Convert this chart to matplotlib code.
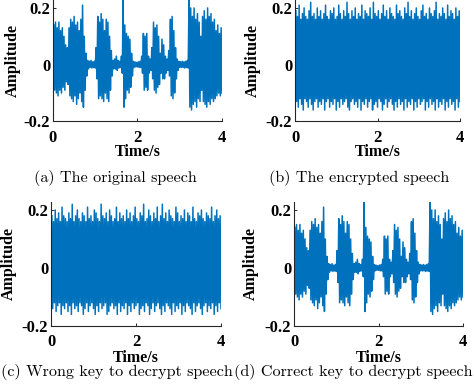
import numpy as np
import matplotlib
matplotlib.use('Agg')
import matplotlib.pyplot as plt

# envelope of the speech signals, one value every 0.04 s
speech_hi = [0.14, 0.15, 0.13, 0.15, 0.12, 0.13, 0.10, 0.07, 0.06, 0.13,
             0.16, 0.15, 0.17, 0.14, 0.15, 0.12, 0.16, 0.21, 0.10, 0.04,
             0.015, 0.012, 0.015, 0.01, 0.012, 0.06, 0.17, 0.15, 0.18, 0.16,
             0.12, 0.16, 0.15, 0.10, 0.05, 0.015, 0.02, 0.03, 0.015, 0.012,
             0.03, 0.23, 0.14, 0.11, 0.10, 0.09, 0.04, 0.012, 0.01, 0.008,
             0.01, 0.012, 0.03, 0.11, 0.10, 0.11, 0.03, 0.02, 0.06, 0.15,
             0.13, 0.14, 0.10, 0.04, 0.09, 0.07, 0.03, 0.02, 0.05, 0.16,
             0.17, 0.12, 0.06, 0.02, 0.012, 0.01, 0.012, 0.01, 0.012, 0.015,
             0.23, 0.20, 0.17, 0.20, 0.16, 0.18, 0.15, 0.10, 0.17, 0.19,
             0.16, 0.20, 0.17, 0.18, 0.15, 0.16, 0.12, 0.14, 0.11, 0.13]
speech_lo = [-0.09, -0.10, -0.11, -0.09, -0.10, -0.08, -0.09, -0.06, -0.07, -0.11,
             -0.12, -0.13, -0.11, -0.14, -0.12, -0.10, -0.13, -0.15, -0.09, -0.04,
             -0.015, -0.01, -0.012, -0.01, -0.012, -0.05, -0.12, -0.11, -0.12, -0.13,
             -0.10, -0.12, -0.13, -0.09, -0.04, -0.015, -0.015, -0.02, -0.012, -0.01,
             -0.03, -0.15, -0.12, -0.09, -0.10, -0.08, -0.04, -0.01, -0.008, -0.008,
             -0.01, -0.01, -0.03, -0.09, -0.08, -0.09, -0.03, -0.02, -0.05, -0.09,
             -0.10, -0.08, -0.07, -0.03, -0.05, -0.05, -0.03, -0.02, -0.04, -0.11,
             -0.12, -0.10, -0.05, -0.02, -0.01, -0.01, -0.01, -0.012, -0.01, -0.012,
             -0.15, -0.16, -0.14, -0.13, -0.15, -0.12, -0.13, -0.09, -0.13, -0.14,
             -0.15, -0.13, -0.14, -0.12, -0.13, -0.12, -0.11, -0.10, -0.11, -0.10]

# encrypted speech
enc_hi = [0.19, 0.17, 0.21, 0.16, 0.18, 0.20, 0.17, 0.16, 0.19, 0.22,
          0.17, 0.18, 0.16, 0.20, 0.17, 0.19, 0.16, 0.18, 0.21, 0.17,
          0.16, 0.19, 0.18, 0.20, 0.16, 0.17, 0.21, 0.18, 0.16, 0.19,
          0.17, 0.22, 0.18, 0.16, 0.19, 0.17, 0.20, 0.16, 0.18, 0.17,
          0.21, 0.16, 0.19, 0.18, 0.17, 0.20, 0.16, 0.22, 0.18, 0.17,
          0.19, 0.16, 0.18, 0.21, 0.17, 0.19, 0.16, 0.20, 0.18, 0.17,
          0.16, 0.21, 0.18, 0.19, 0.17, 0.16, 0.20, 0.18, 0.22, 0.17,
          0.19, 0.16, 0.18, 0.20, 0.17, 0.16, 0.19, 0.21, 0.17, 0.18,
          0.16, 0.20, 0.18, 0.17, 0.19, 0.22, 0.16, 0.18, 0.17, 0.20,
          0.18, 0.16, 0.21, 0.17, 0.19, 0.18, 0.16, 0.20, 0.17, 0.19]
enc_lo = [-0.13, -0.15, -0.12, -0.14, -0.16, -0.12, -0.13, -0.15, -0.12, -0.14,
          -0.16, -0.13, -0.12, -0.15, -0.13, -0.14, -0.12, -0.16, -0.13, -0.12,
          -0.15, -0.13, -0.14, -0.12, -0.16, -0.13, -0.15, -0.12, -0.14, -0.13,
          -0.12, -0.15, -0.16, -0.13, -0.12, -0.14, -0.13, -0.15, -0.12, -0.16,
          -0.13, -0.14, -0.12, -0.15, -0.13, -0.12, -0.16, -0.14, -0.13, -0.15,
          -0.12, -0.13, -0.16, -0.14, -0.12, -0.15, -0.13, -0.12, -0.14, -0.16,
          -0.13, -0.15, -0.12, -0.14, -0.13, -0.16, -0.12, -0.15, -0.13, -0.14,
          -0.12, -0.16, -0.13, -0.15, -0.12, -0.14, -0.13, -0.12, -0.16, -0.13,
          -0.15, -0.12, -0.14, -0.13, -0.16, -0.12, -0.15, -0.13, -0.14, -0.12,
          -0.16, -0.13, -0.15, -0.12, -0.14, -0.13, -0.16, -0.12, -0.15, -0.13]

# wrong key decryption
wrong_hi = [0.18, 0.16, 0.20, 0.17, 0.19, 0.16, 0.21, 0.18, 0.17, 0.16,
            0.19, 0.17, 0.22, 0.16, 0.18, 0.20, 0.17, 0.16, 0.19, 0.18,
            0.16, 0.21, 0.17, 0.18, 0.16, 0.20, 0.19, 0.17, 0.16, 0.22,
            0.18, 0.17, 0.19, 0.16, 0.20, 0.18, 0.16, 0.17, 0.21, 0.16,
            0.19, 0.17, 0.18, 0.16, 0.20, 0.17, 0.19, 0.16, 0.18, 0.21,
            0.17, 0.16, 0.19, 0.18, 0.22, 0.16, 0.17, 0.20, 0.18, 0.16,
            0.19, 0.17, 0.21, 0.16, 0.18, 0.22, 0.17, 0.19, 0.16, 0.20,
            0.18, 0.17, 0.16, 0.21, 0.19, 0.16, 0.18, 0.17, 0.20, 0.16,
            0.19, 0.18, 0.16, 0.21, 0.17, 0.16, 0.19, 0.18, 0.20, 0.17,
            0.16, 0.19, 0.18, 0.17, 0.21, 0.16, 0.18, 0.20, 0.17, 0.18]
wrong_lo = [-0.14, -0.12, -0.15, -0.13, -0.12, -0.16, -0.13, -0.14, -0.12, -0.15,
            -0.13, -0.16, -0.12, -0.14, -0.13, -0.15, -0.12, -0.13, -0.16, -0.14,
            -0.12, -0.15, -0.13, -0.12, -0.14, -0.16, -0.13, -0.15, -0.12, -0.14,
            -0.13, -0.12, -0.16, -0.15, -0.13, -0.12, -0.14, -0.13, -0.16, -0.12,
            -0.15, -0.13, -0.14, -0.12, -0.16, -0.13, -0.15, -0.12, -0.14, -0.13,
            -0.12, -0.16, -0.14, -0.13, -0.15, -0.12, -0.13, -0.16, -0.14, -0.12,
            -0.15, -0.13, -0.12, -0.14, -0.16, -0.13, -0.15, -0.12, -0.13, -0.14,
            -0.16, -0.12, -0.15, -0.13, -0.14, -0.12, -0.16, -0.13, -0.15, -0.12,
            -0.13, -0.14, -0.16, -0.12, -0.15, -0.13, -0.12, -0.14, -0.16, -0.13,
            -0.12, -0.15, -0.13, -0.14, -0.12, -0.16, -0.13, -0.15, -0.12, -0.14]

captions = ['(a) The original speech', '(b) The encrypted speech',
            '(c) Wrong key to decrypt speech', '(d) Correct key to decrypt speech']
xticks = [0, 2, 4]
yticks = [-0.2, 0, 0.2]
yticklabels = ['-0.2', '0', '0.2']

blue = '#0072BD'
dt = 0.04
t = dt / 2 + dt * np.arange(len(speech_hi))

fig = plt.figure(figsize=(4.74, 3.89), dpi=100)

# axes boxes [left, bottom, width, height], caption centre, ylabel x, xlabel y
panels = [
    ([0.1118, 0.6880, 0.3565, 0.3120], 0.243, 0.542, speech_hi, speech_lo, -0.19, -0.19),
    ([0.6224, 0.6880, 0.3481, 0.3120], 0.757, 0.542, enc_hi, enc_lo, -0.205, -0.19),
    ([0.1076, 0.1620, 0.3586, 0.3190], 0.247, 0.043, wrong_hi, wrong_lo, -0.20, -0.19),
    ([0.6203, 0.1620, 0.3565, 0.3190], 0.745, 0.043, speech_hi, speech_lo, -0.207, -0.19),
]

tick_font = dict(family='Liberation Serif', weight='bold', size=12)
label_font = dict(family='Liberation Serif', weight='bold', size=11.5)

for i, (box, cx, cy, hi, lo, ylx, xly) in enumerate(panels):
    ax = fig.add_axes(box)
    tt = np.column_stack([t, t + dt / 2]).ravel()
    yy = np.column_stack([hi, lo]).ravel()
    ax.plot(tt, yy, color=blue, lw=1.1)
    ax.set_xlim(0, 4)
    ax.set_ylim(-0.2, 0.228)
    ax.spines['top'].set_visible(False)
    ax.spines['right'].set_visible(False)
    for s in ['left', 'bottom']:
        ax.spines[s].set_color('#262626')
        ax.spines[s].set_linewidth(0.8)
    ax.tick_params(direction='in', length=2.5, width=0.7, color='#262626')
    ax.tick_params(axis='x', pad=6)
    ax.tick_params(axis='y', pad=2)
    ax.set_xticks(xticks)
    ax.set_xticklabels([str(v) for v in xticks], fontdict=tick_font)
    ax.set_yticks(yticks)
    ax.set_yticklabels(yticklabels, fontdict=tick_font)
    ax.set_xlabel('Time/s', fontdict=label_font)
    ax.set_ylabel('Amplitude', fontdict=label_font)
    ax.yaxis.set_label_coords(ylx, 0.5)
    ax.xaxis.set_label_coords(0.5, xly)
    fig.text(cx, cy, captions[i], family='cmr10', size=11.6,
             ha='center', va='center')

fig.savefig('out.png', dpi=100)
